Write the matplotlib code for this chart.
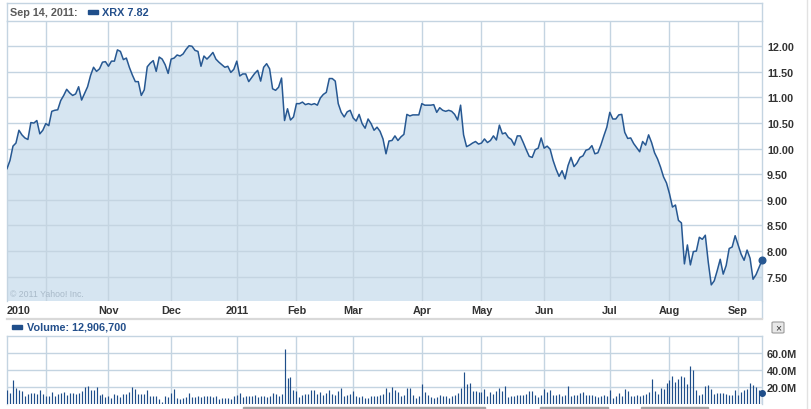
import numpy as np
import pandas as pd
import matplotlib
matplotlib.use("Agg")
import matplotlib.pyplot as plt
from matplotlib.patches import Rectangle, FancyBboxPatch
from matplotlib.lines import Line2D

# ---------------- data ----------------
start_date = "2010-09-14"
end_date = "2011-09-14"
market_holidays = ["2010-11-25", "2010-12-24", "2011-01-17", "2011-02-21",
                   "2011-04-22", "2011-05-30", "2011-07-04", "2011-09-05"]

close_prices = [
    9.61, 9.77, 10.05, 10.11, 10.36, 10.27, 10.21, 10.18, 10.51, 10.50,
    10.55, 10.29, 10.36, 10.49, 10.45, 10.73, 10.75, 10.76, 10.94, 11.04,
    11.16, 11.09, 11.04, 11.07, 11.21, 10.95, 11.08, 11.21, 11.43, 11.59,
    11.51, 11.56, 11.69, 11.70, 11.61, 11.71, 11.71, 11.93, 11.90, 11.74,
    11.77, 11.59, 11.44, 11.31, 11.31, 11.04, 11.15, 11.60, 11.67, 11.72,
    11.51, 11.79, 11.75,
    11.64, 11.47, 11.75, 11.77, 11.83, 11.81, 11.85, 11.94, 12.01, 12.00,
    11.92, 11.90, 11.61, 11.81, 11.75, 11.81, 11.88, 11.75, 11.69, 11.64,
    11.59, 11.61, 11.49, 11.55, 11.71, 11.42, 11.46, 11.46, 11.31, 11.39,
    11.47, 11.53, 11.32, 11.59, 11.66, 11.56, 11.17, 11.14, 11.20, 11.38,
    10.55, 10.78, 10.56, 10.62, 10.88, 10.88, 10.91, 10.86, 10.88, 10.86,
    10.88, 10.85,
    10.99, 11.06, 11.10, 11.37, 11.37, 11.32, 10.88, 10.71, 10.62, 10.72,
    10.75, 10.60, 10.54, 10.67, 10.49, 10.40, 10.58, 10.49, 10.36, 10.42,
    10.34, 10.19, 9.90, 10.15, 10.16, 10.25, 10.16, 10.23, 10.28, 10.67,
    10.64, 10.66, 10.66, 10.66, 10.88, 10.85, 10.85, 10.85, 10.86, 10.71,
    10.80, 10.75, 10.73, 10.75, 10.73, 10.67, 10.56, 10.85, 10.27, 10.04,
    10.07, 10.11, 10.14, 10.09, 10.11, 10.19, 10.12, 10.16, 10.25, 10.17,
    10.46, 10.29, 10.31, 10.22, 10.18, 10.07, 10.25, 10.25, 10.12, 9.98,
    9.85, 9.83, 9.98, 10.01, 10.21, 10.01, 10.05, 9.99, 9.77, 9.60,
    9.46, 9.57, 9.41, 9.67, 9.83, 9.65, 9.72, 9.83, 9.86, 9.97,
    9.99, 10.06, 9.90, 9.92, 10.07, 10.25, 10.42, 10.71, 10.58, 10.58,
    10.66, 10.67, 10.32, 10.20, 10.21, 10.10, 10.02, 9.94, 10.14, 10.07,
    10.27, 10.12, 9.92, 9.80, 9.64, 9.45, 9.33, 9.12, 8.86, 8.90,
    8.60, 8.55, 7.75, 8.12, 7.73, 7.99, 8.00, 8.27, 8.23, 8.31,
    7.78, 7.34, 7.42, 7.62, 7.84, 7.55, 7.72, 8.05, 8.08, 8.30,
    8.12, 7.94, 7.82, 8.02, 7.86, 7.45, 7.54, 7.68, 7.82,
]

volume_millions = [
    16.0, 13.2, 28.8, 18.8, 16.0, 14.8, 9.2, 12.0, 13.2, 12.8,
    12.0, 16.0, 12.0, 10.0, 9.2, 14.0, 10.0, 12.0, 13.2, 14.0,
    10.8, 12.4, 13.2, 12.0, 12.4, 14.8, 20.0, 21.2, 16.0, 16.0,
    20.0, 10.8, 12.0, 8.0, 10.0, 7.2, 11.2, 10.8, 8.0, 12.0,
    12.0, 14.0, 20.0, 17.2, 12.0, 12.0, 12.0, 16.0, 10.0, 9.2,
    10.0, 6.0, 2.0, 10.0, 8.0, 13.2, 17.2, 6.8, 6.0, 6.8,
    8.0, 12.8, 8.0, 8.0, 9.2, 8.0, 10.0, 9.2, 10.0, 8.0,
    9.2, 6.0, 6.8, 6.8, 6.8, 6.0, 9.2, 10.8, 13.2, 8.0,
    9.2, 10.0, 9.2, 10.8, 8.0, 9.2, 9.2, 8.0, 9.2, 12.8,
    12.0, 10.0, 12.0, 65.2, 30.8, 31.2, 16.0, 15.2, 8.0, 10.8,
    12.0, 12.0, 16.8, 16.0, 12.0, 14.0, 10.8, 13.2, 16.8, 12.0,
    10.8, 15.2, 18.8, 10.0, 10.8, 12.0, 14.8, 10.0, 8.0, 9.2,
    6.8, 6.8, 9.2, 9.2, 10.0, 10.8, 12.0, 18.8, 14.0, 20.0,
    16.0, 14.0,
    10.0, 10.8, 18.8, 18.8, 10.8, 6.8, 10.0, 24.0, 14.0, 10.8,
    8.0, 6.8, 8.0, 10.8, 9.2, 9.2, 6.8, 9.2, 10.8, 12.8,
    18.8, 37.2, 23.2, 24.8, 15.2, 15.2, 14.0, 14.0, 18.0, 9.2,
    14.0, 12.0, 14.8, 18.8, 15.6, 21.6, 8.0, 10.0, 10.0, 10.8,
    10.8, 10.8, 12.0, 14.8, 14.8, 10.8, 8.0, 10.8, 18.0, 14.0,
    16.0, 10.8, 10.8, 12.0, 10.0, 10.8, 21.6, 10.0, 10.8, 10.8,
    12.8, 14.0, 10.8, 10.8, 10.8, 10.0, 8.0, 10.0, 10.8, 9.2,
    16.0, 6.8, 10.0, 13.2, 10.0, 18.0, 14.8, 10.0, 9.2, 10.8,
    10.0, 10.8, 12.0, 14.0, 29.2, 14.8, 12.0, 18.8, 17.2, 24.8,
    28.0, 33.2, 26.0, 30.0, 33.2, 32.0, 24.0, 45.2, 40.0, 16.8,
    10.8, 12.0, 21.2, 22.0, 17.2, 12.0, 12.8, 12.8, 12.8, 12.0,
    10.8, 10.8, 16.8, 10.8, 14.0, 16.0, 18.0, 24.8, 22.0, 20.0,
    16.0, 12.9,
]

month_labels = ["2010", "Nov", "Dec", "2011", "Feb", "Mar", "Apr",
                "May", "Jun", "Jul", "Aug", "Sep"]
price_ticks = [7.5, 8.0, 8.5, 9.0, 9.5, 10.0, 10.5, 11.0, 11.5, 12.0]
volume_ticks = [20, 40, 60]

header_date = "Sep 14, 2011:"
ticker = "XRX"
last_price = 7.82
last_volume = 12906700
copyright_text = "\u00a9 2011 Yahoo! Inc."

# ---------------- style ----------------
LINE = "#275892"
FILL = "#d6e5f1"
GRID = "#c4d4e1"
TXT = "#333333"
HDR_GRAY = "#5a5a5a"
BLUE_TXT = "#234f8b"
BAR = "#1f4e8a"
FONT = "Liberation Sans"
FS = 7.8

plt.rcParams["font.family"] = [FONT, "DejaVu Sans"]

dates = pd.bdate_range(start_date, end_date)
dates = dates[~dates.isin(pd.to_datetime(market_holidays))]
n = len(dates)
xs = np.arange(n)
month_idx = [i for i in range(1, n) if dates[i].month != dates[i - 1].month]

W, H = 811, 410
fig = plt.figure(figsize=(W / 100, H / 100), dpi=100)
fig.patch.set_facecolor("white")


def fx(x):
    return x / W


def fy(y):
    return 1 - y / H


def fline(x0, y0, x1, y1, color=GRID, lw=1.0):
    fig.add_artist(Line2D([fx(x0), fx(x1)], [fy(y0), fy(y1)], color=color,
                          lw=lw, transform=fig.transFigure))


# ---------------- price panel ----------------
L, R = 7, 762
ax = fig.add_axes([fx(L), fy(302), (R - L) / W, (302 - 22) / H])
ax.set_xlim(0, n - 1)
ax.set_ylim(7.025, 12.494)
ax.fill_between(xs, close_prices, 0, color=FILL, lw=0, zorder=1)
for t in price_ticks:
    ax.axhline(t, color=GRID, lw=1.0, zorder=2)
for m in month_idx:
    ax.axvline(m, color=GRID, lw=1.0, zorder=2)
ax.plot(xs, close_prices, color=LINE, lw=1.1, zorder=3,
        solid_joinstyle="round")
ax.plot([xs[-1]], [close_prices[-1]], "o", ms=4.8, color=LINE, zorder=4,
        clip_on=False)

ax.yaxis.tick_right()
ax.set_yticks(price_ticks)
ax.set_yticklabels([f"{t:.2f}" for t in price_ticks], fontsize=FS,
                   fontweight="bold", color=TXT)
ax.tick_params(axis="y", length=0, pad=3.6)
tick_pos = [0] + month_idx[1:]
ax.set_xticks(tick_pos)
ax.set_xticklabels(month_labels, fontsize=FS, fontweight="bold", color=TXT)
ax.tick_params(axis="x", length=0, pad=2.6)
ax.get_xticklabels()[0].set_ha("left")
for side in ["left", "right", "top"]:
    ax.spines[side].set_color(GRID)
    ax.spines[side].set_linewidth(1.0)
ax.spines["bottom"].set_visible(False)
ax.set_facecolor("white")
ax.text(0.004, 0.012, copyright_text, transform=ax.transAxes, fontsize=6.3,
        color="#a9bac9", ha="left", va="bottom", zorder=5)

# header box
fline(L, 4, R, 4)
fline(L, 4, L, 22)
fline(R, 4, R, 22)
fline(R, 302, R, 319)
fig.text(fx(10), fy(13), header_date, fontsize=FS, fontweight="bold",
         color=HDR_GRAY, ha="left", va="center")
fig.add_artist(Rectangle((fx(88), fy(15)), 10 / W, 4 / H, color=BAR,
                         transform=fig.transFigure))
fig.text(fx(102), fy(13), f"{ticker} {last_price:.2f}", fontsize=FS,
         fontweight="bold", color=BLUE_TXT, ha="left", va="center")

# separator
fline(L, 320, R, 320, color="#d9d9d9", lw=1.6)

# ---------------- volume panel ----------------
axv = fig.add_axes([fx(L), fy(405), (R - L) / W, (405 - 337) / H])
axv.set_xlim(0, n - 1)
axv.set_ylim(0, 80)
for t in volume_ticks:
    axv.axhline(t, color=GRID, lw=1.0, zorder=1)
for m in month_idx:
    axv.axvline(m, color=GRID, lw=1.0, zorder=1)
axv.vlines(xs, 0, volume_millions, colors=BAR, lw=0.85, zorder=3)
axv.plot([xs[-1]], [volume_millions[-1]], "o", ms=4.0, color=BAR, zorder=4,
         clip_on=False)
axv.yaxis.tick_right()
axv.set_yticks(volume_ticks)
axv.set_yticklabels([f"{t:.1f}M" for t in volume_ticks], fontsize=FS,
                    fontweight="bold", color=TXT)
axv.tick_params(axis="y", length=0, pad=3.6)
axv.set_xticks([])
for side in ["left", "right", "top"]:
    axv.spines[side].set_color(GRID)
    axv.spines[side].set_linewidth(1.0)
axv.spines["bottom"].set_visible(False)

fig.add_artist(Rectangle((fx(12), fy(329.5)), 10 / W, 4 / H, color=BAR,
                         transform=fig.transFigure))
fig.text(fx(27), fy(327.5), f"Volume: {last_volume:,}", fontsize=FS,
         fontweight="bold", color=BLUE_TXT, ha="left", va="center")

# close button
fig.add_artist(FancyBboxPatch((fx(772), fy(334)), 12 / W, 11 / H,
                              boxstyle="round,pad=0,rounding_size=0.002",
                              fc="#e8e8e8", ec="#9a9a9a", lw=0.8,
                              transform=fig.transFigure))
fig.text(fx(778), fy(328.5), "\u00d7", fontsize=7.5, color="#333333",
         ha="center", va="center")

# right page border and bottom scroll pieces
fline(806.5, 0, 806.5, 410, color="#e2e2e2", lw=1.0)
for x0, x1 in [(243, 485), (540, 608), (641, 708)]:
    fig.add_artist(Rectangle((fx(x0), 0), (x1 - x0) / W, 2 / H,
                             color="#a3a3a3", transform=fig.transFigure))

fig.savefig("out.png", dpi=100, facecolor="white")
